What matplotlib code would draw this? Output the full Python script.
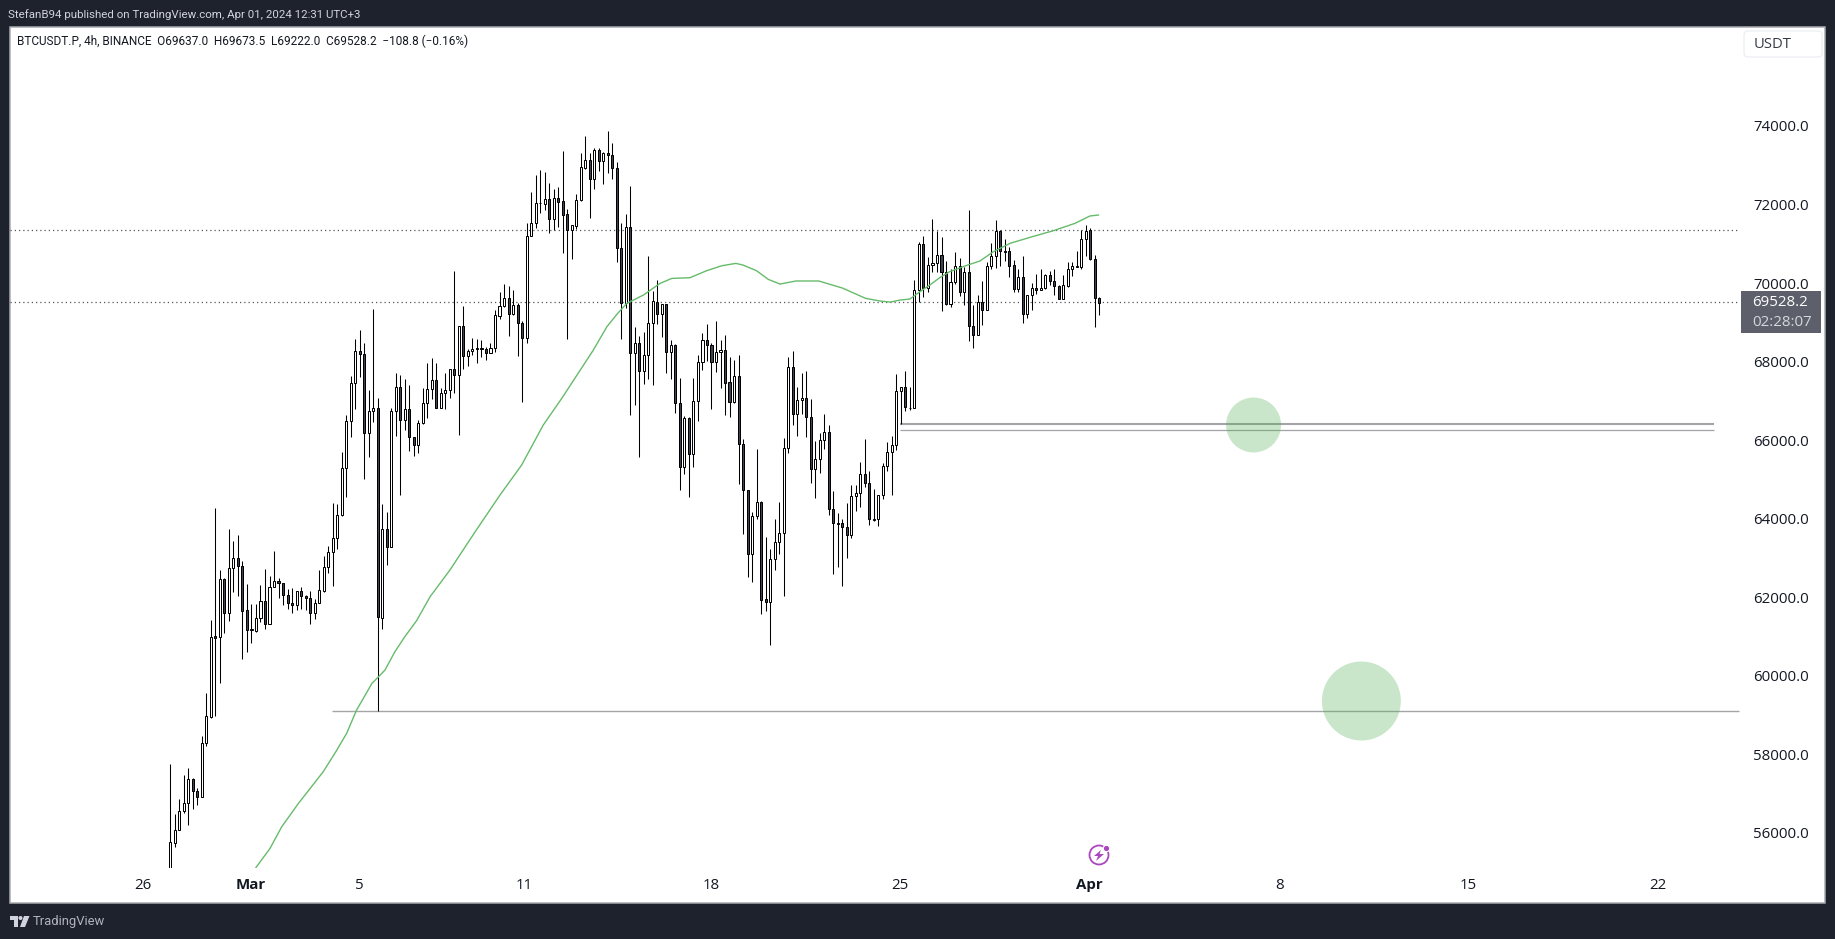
import matplotlib
matplotlib.use('Agg')
import matplotlib.pyplot as plt
from matplotlib.patches import Ellipse, Rectangle, Circle, FancyBboxPatch, Polygon
from matplotlib.transforms import ScaledTranslation

W, H = 1835, 939

# BTCUSDT.P 4h candles
opens = [54800, 55758, 56089, 56573, 56777, 57388, 57082, 56946, 58305, 58984,
         61030, 61022, 62490, 61633, 62762, 63017, 62813, 61692, 61200, 61174,
         61489, 61922, 61336, 62278, 62431, 62380, 62074, 61888, 61837, 62176,
         62049, 61998, 61633, 61888, 62193, 62788, 63170, 63526, 64112, 65307,
         66504, 67472, 68287, 68211, 66215, 66759, 66835, 61489, 63755, 63314,
         66760, 67371, 66531, 66811, 66115, 65911, 66455, 66964, 67320, 67550,
         66854, 67219, 67295, 67829, 67676, 68924, 68177, 68287, 68364, 68364,
         68338, 68253, 68364, 69194, 69432, 69636, 69245, 69458, 68999, 68634,
         71215, 71546, 72056, 72030, 72157, 71665, 72183, 72106, 71775, 71385,
         71487, 72132, 72947, 73151, 72667, 73405, 73125, 73329, 73278, 72947,
         70909, 69509, 71444, 68252, 68492, 67796, 68184, 69000, 69551, 69245,
         69483, 68280, 68449, 66963, 65350, 66581, 65681, 67014, 68008, 68568,
         68440, 68024, 68262, 68313, 67498, 66989, 67651, 65919, 64747, 63134,
         64085, 64442, 61971, 61895, 62990, 63423, 63652, 65817, 67880, 66700,
         67040, 67091, 66607, 65282, 65537, 66021, 66225, 64263, 63907, 63907,
         63822, 63601, 64594, 64671, 65155, 64926, 64000, 64009, 64620, 65358,
         65715, 65893, 67269, 67388, 66853, 66852, 69841, 71012, 69908, 70477,
         70528, 70732, 70299, 69501, 70044, 70452, 69790, 70299, 68924, 68694,
         69535, 69348, 70452, 70715, 71343, 70834, 70834, 70477, 69866, 70172,
         69229, 69713, 69891, 69840, 69891, 70223, 70070, 69942, 69628, 69951,
         70375, 70445, 70435, 71139, 71377, 70647, 69637]
highs = [57778, 56505, 56879, 57490, 57668, 57413, 57159, 58492, 59578, 61438,
         64299, 62711, 62516, 63764, 63458, 63611, 62940, 62355, 61854, 61854,
         62338, 62745, 62567, 63204, 62507, 62380, 62227, 62253, 62176, 62287,
         62092, 62176, 61981, 62711, 63076, 63322, 64426, 64401, 65715, 66665,
         67659, 68601, 68830, 68491, 67302, 69357, 67090, 64401, 64197, 66838,
         67728, 67686, 67575, 67431, 66115, 66539, 67354, 67983, 68110, 67983,
         67346, 67728, 67830, 70333, 68924, 69442, 68355, 68618, 68593, 68576,
         68397, 68499, 69331, 69789, 70001, 69950, 69848, 69526, 69050, 71546,
         72344, 72777, 72905, 72862, 72565, 72421, 72463, 73388, 71911, 71495,
         72293, 73329, 73770, 73329, 73456, 73456, 73371, 73898, 73584, 73117,
         71546, 71775, 72497, 68906, 68678, 68772, 70714, 69823, 70103, 69483,
         69483, 68577, 68475, 67609, 66632, 66615, 67609, 68195, 68746, 68984,
         68491, 69060, 68568, 68704, 68135, 68058, 68186, 66046, 64747, 64187,
         65800, 64476, 63550, 63253, 64017, 64450, 66072, 68143, 68296, 67371,
         67736, 67787, 67073, 66004, 66199, 66691, 66403, 64722, 64161, 64017,
         64416, 64875, 64875, 65460, 66046, 65231, 64781, 64620, 65435, 65970,
         66131, 67702, 67388, 67787, 67388, 70104, 71063, 71216, 70690, 71649,
         71360, 71190, 70588, 70384, 70817, 70656, 70426, 71887, 69467, 69713,
         70070, 70554, 71038, 71623, 71377, 71140, 70953, 70613, 70384, 70715,
         69730, 70019, 70257, 70375, 70248, 70333, 70375, 69968, 70223, 70562,
         70554, 70842, 71369, 71505, 71420, 70732, 69673.5]
lows = [54600, 55673, 56089, 56522, 56233, 56641, 56743, 56946, 58245, 58959,
        59001, 59850, 61123, 61421, 62168, 62066, 60461, 60640, 60869, 61140,
        61404, 61217, 61336, 62278, 62015, 61828, 61735, 61633, 61701, 61726,
        61701, 61353, 61480, 61888, 62168, 62652, 62321, 63263, 64100, 64585,
        66114, 66827, 67642, 65044, 65604, 66496, 59137, 61225, 62847, 63314,
        66132, 64629, 66285, 65750, 65631, 65707, 66429, 66590, 67074, 66854,
        66837, 66820, 67108, 67234, 66148, 67846, 67922, 68202, 68000, 68143,
        68066, 68253, 68279, 69110, 69407, 68676, 69203, 68167, 67006, 68507,
        71215, 71419, 71818, 71886, 71308, 71376, 71461, 70799, 68609, 70638,
        71402, 72115, 72930, 71690, 72421, 72888, 72556, 72820, 72675, 70570,
        68609, 69381, 66668, 66930, 65605, 67456, 67583, 67430, 68984, 68660,
        67743, 67583, 66726, 64765, 65164, 64586, 65350, 66522, 67812, 68033,
        66827, 67770, 67362, 66666, 66624, 66963, 64917, 63643, 62548, 62421,
        64026, 61606, 61682, 60816, 62710, 63126, 62064, 65707, 66411, 66140,
        66700, 66114, 64943, 64560, 65180, 65808, 64127, 62625, 62803, 62319,
        63032, 63542, 64229, 64331, 64841, 63873, 63975, 63847, 64527, 65248,
        64637, 65783, 66437, 66759, 66802, 66852, 69535, 69662, 69807, 70316,
        70307, 69323, 69467, 69424, 69993, 69696, 69467, 68559, 68380, 68694,
        68966, 69348, 70375, 70409, 70469, 70588, 70189, 69807, 69798, 69017,
        69136, 69340, 69747, 69840, 69883, 69985, 69722, 69611, 69628, 69934,
        70206, 70445, 70392, 70707, 70613, 68915, 69222]
closes = [55784, 56089, 56573, 56777, 57388, 57082, 56946, 58305, 58993, 61005,
          60996, 62482, 61633, 62762, 63017, 62813, 61684, 61200, 61208, 61489,
          61922, 61336, 62278, 62431, 62380, 62074, 61888, 61837, 62176, 62049,
          61998, 61633, 61888, 62202, 62788, 63170, 63526, 64112, 65307, 66504,
          67472, 68287, 68211, 66215, 66759, 66835, 61514, 63755, 63314, 66762,
          67371, 66531, 66811, 66115, 65911, 66455, 66964, 67320, 67550, 66854,
          67219, 67295, 67830, 67676, 68924, 68177, 68287, 68338, 68355, 68355,
          68253, 68364, 69204, 69432, 69636, 69245, 69458, 68999, 68634, 71215,
          71546, 72056, 72060, 72157, 71665, 72183, 72098, 71767, 71385, 71495,
          72132, 72972, 73151, 72667, 73405, 73125, 73329, 73278, 72947, 70909,
          69509, 71444, 68252, 68490, 67796, 68186, 69000, 69568, 69245, 69483,
          68277, 68449, 66963, 65350, 66581, 65681, 67014, 68008, 68568, 68441,
          68024, 68262, 68313, 67489, 66989, 67651, 65919, 64747, 63134, 64085,
          64442, 61963, 61895, 62990, 63423, 63652, 65817, 67880, 66700, 67040,
          67091, 66607, 65282, 65537, 66021, 66225, 64263, 63907, 63900, 63822,
          63601, 64594, 64671, 65155, 64926, 64009, 64009, 64620, 65358, 65715,
          65893, 67269, 67388, 66861, 66845, 69841, 71012, 69908, 70477, 70528,
          70732, 70299, 69501, 70044, 70452, 69790, 70299, 68924, 68694, 69535,
          69348, 70452, 70715, 71352, 70834, 70830, 70469, 69866, 70172, 69229,
          69713, 69891, 69840, 69891, 70223, 70070, 69942, 69628, 69968, 70375,
          70452, 70452, 71139, 71360, 70647, 69637, 69528.2]

# green moving average: bar position, price
ma_bars = [19.0, 22.1, 24.7, 28.4, 33.9, 36.7, 39.1, 41.3, 42.8, 44.7, 45.8,
           47.6, 49.8, 52.0, 54.6, 57.6, 62.0, 67.6, 73.1, 77.9, 82.7, 86.8,
           89.7, 93.8, 96.8, 99.0, 101.2, 104.9, 108.6, 111.2, 115.2, 118.9,
           122.3, 125.4, 127.0, 130.0, 132.6, 135.2, 138.7, 143.8, 149.0,
           154.2, 157.4, 159.6, 161.8, 164.0, 166.2, 168.4, 170.6, 172.8,
           176.6, 179.5, 182.5, 186.2, 190.6, 195.8, 200.6, 203.9, 205.8]
ma_prices = [55147, 55630, 56182, 56777, 57583, 58093, 58560, 59154, 59451, 59833,
             59960, 60173, 60640, 61022, 61429, 62040, 62720, 63695, 64629, 65393,
             66412, 67091, 67600, 68320, 68914, 69228, 69508, 69721, 70018, 70145,
             70162, 70340, 70468, 70527, 70485, 70340, 70120, 70001, 70079, 70079,
             69901, 69636, 69569, 69543, 69594, 69620, 69807, 69976, 70163, 70316,
             70477, 70588, 70825, 71038, 71190, 71360, 71547, 71734, 71759]

price_ticks = [56000, 58000, 60000, 62000, 64000, 66000, 68000, 70000, 72000, 74000]
time_days = [-4, 0, 4, 10.1, 17, 24, 31, 38, 45, 52]   # days from 1 Mar
time_labels = ['26', 'Mar', '5', '11', '18', '25', 'Apr', '8', '15', '22']
bars_per_day = 6
mar1_bar = 17.87

dotted_levels = [71368, 69534]
zone_levels = [66446, 66276]
zone_start, zone_end = 161.8, 342.2
low_level = 59123
low_start, low_end = 35.8, 347.8

# drawn circles: bar, price, width in bars, height in price
circles = [(240.2, 66413, 12.2, 1400), (264.1, 59386, 17.5, 2011)]

fonts = ['Open Sans', 'DejaVu Sans']
ui_fonts = ['Roboto', 'DejaVu Sans']
plt.rcParams['font.family'] = fonts

dark = '#1e222d'
ink = '#131722'
frame = '#a8abb0'

fig = plt.figure(figsize=(W / 100, H / 100), dpi=100, facecolor=dark)

bg = fig.add_axes([0, 0, 1, 1], zorder=0)
bg.set_xlim(0, W)
bg.set_ylim(H, 0)
bg.axis('off')
bg.add_patch(Rectangle((10, 27), 1815, 876, facecolor='white', edgecolor=frame, lw=1.1))

# pane in pixels: left 10, right 1740, top 27, bottom 868
ax = fig.add_axes([10 / W, 1 - 868 / H, 1730 / W, 841 / H], zorder=1)
ax.patch.set_alpha(0)
ax.set_xlim(-35.54, 348.05)
ax.set_ylim(55134, 76546)
for s in ax.spines.values():
    s.set_visible(False)

xs = list(range(len(closes)))
ax.vlines(xs, lows, highs, color='black', lw=0.75, zorder=3)
for x, o, c in zip(xs, opens, closes):
    fill = 'white' if c >= o else '#3f434f'
    ax.add_patch(Rectangle((x - 0.23, min(o, c)), 0.46, max(abs(c - o), 1),
                           facecolor=fill, edgecolor='black', lw=0.72, zorder=4))

for lev in dotted_levels:
    ax.axhline(lev, color='#55585f', lw=0.9, ls=(0, (1, 2.4)), zorder=2)
ax.hlines(zone_levels[0], zone_start, zone_end, color='#a3a3a8', lw=1.5, zorder=2)
ax.hlines(zone_levels[1], zone_start, zone_end, color='#a3a3a8', lw=0.9, zorder=2)
ax.hlines(low_level, low_start, low_end, color='#a5a5a8', lw=1.0, zorder=2)

ax.plot(ma_bars, ma_prices, color='#66bb6a', lw=1.0, zorder=5)

for bx, py, bw, ph in circles:
    ax.add_patch(Ellipse((bx, py), bw, ph, facecolor='#4caf50', edgecolor='none',
                         alpha=0.3, zorder=6))

ax.yaxis.tick_right()
ax.set_yticks(price_ticks)
ax.set_yticklabels(['%.1f' % p for p in price_ticks])
ax.tick_params(axis='y', length=0, pad=9.5, labelsize=10.8, labelcolor=ink)
ax.set_xticks([mar1_bar + d * bars_per_day for d in time_days])
ax.set_xticklabels(time_labels)
ax.tick_params(axis='x', length=0, pad=7.5, labelsize=10.8, labelcolor=ink)
for lab in ax.get_xticklabels():
    if lab.get_text() in ('Mar', 'Apr'):
        lab.set_fontweight('bold')
up_1px = ScaledTranslation(0, 1 / fig.dpi, fig.dpi_scale_trans)
for lab in ax.get_yticklabels():
    lab.set_transform(lab.get_transform() + up_1px)

# chrome on top, in pixel coordinates
top = fig.add_axes([0, 0, 1, 1], zorder=2)
top.set_xlim(0, W)
top.set_ylim(H, 0)
top.axis('off')
top.patch.set_alpha(0)

top.text(8, 15, 'StefanB94 published on TradingView.com, Apr 01, 2024 12:31 UTC+3',
         color='#d1d4dc', fontsize=8.27, va='center', ha='left', family=ui_fonts)
top.text(17, 41.5, 'BTCUSDT.P, 4h, BINANCE  O69637.0  H69673.5  L69222.0  C69528.2  \u2212108.8 (\u22120.16%)',
         color=ink, fontsize=8.5, va='center', ha='left', family=ui_fonts)

top.add_patch(FancyBboxPatch((1746, 33), 74, 22, boxstyle='round,pad=2,rounding_size=4',
                             facecolor='white', edgecolor='#eef0f4', lw=1))
top.text(1754, 44.5, 'USDT', color='#363a45', fontsize=10.6, va='center', ha='left')

top.add_patch(Rectangle((1741, 291), 80, 42, facecolor='#5d606b', edgecolor='none'))
top.text(1752, 303, '%.1f' % closes[-1], color='white', fontsize=10.8, va='center', ha='left')
top.text(1752, 322, '02:28:07', color='#d6d7db', fontsize=10.8, va='center', ha='left')

# session break icon
purple = '#ab47bc'
top.add_patch(Circle((1099, 855), 9.5, facecolor='none', edgecolor=purple, lw=1.3))
top.add_patch(Circle((1106.5, 848.5), 3.2, facecolor=purple, edgecolor='white', lw=0.8))
top.add_patch(Polygon([(1101, 850), (1094, 856), (1098, 856), (1096, 861), (1104, 854), (1099.5, 854)],
                      facecolor=purple, edgecolor='none'))

# TradingView logo
logo = '#d1d4dc'
top.add_patch(Polygon([(10, 916), (18, 916), (18, 927), (14, 927), (14, 920), (10, 920)],
                      facecolor=logo, edgecolor='none'))
top.add_patch(Circle((20.5, 918), 2, facecolor=logo, edgecolor='none'))
top.add_patch(Polygon([(24, 916), (29.5, 916), (25, 927), (20, 927)], facecolor=logo, edgecolor='none'))
top.text(33, 921, 'TradingView', color='#b2b5be', fontsize=9.35, va='center', ha='left', family=ui_fonts)

fig.savefig('out.png', dpi=100, facecolor=dark)
